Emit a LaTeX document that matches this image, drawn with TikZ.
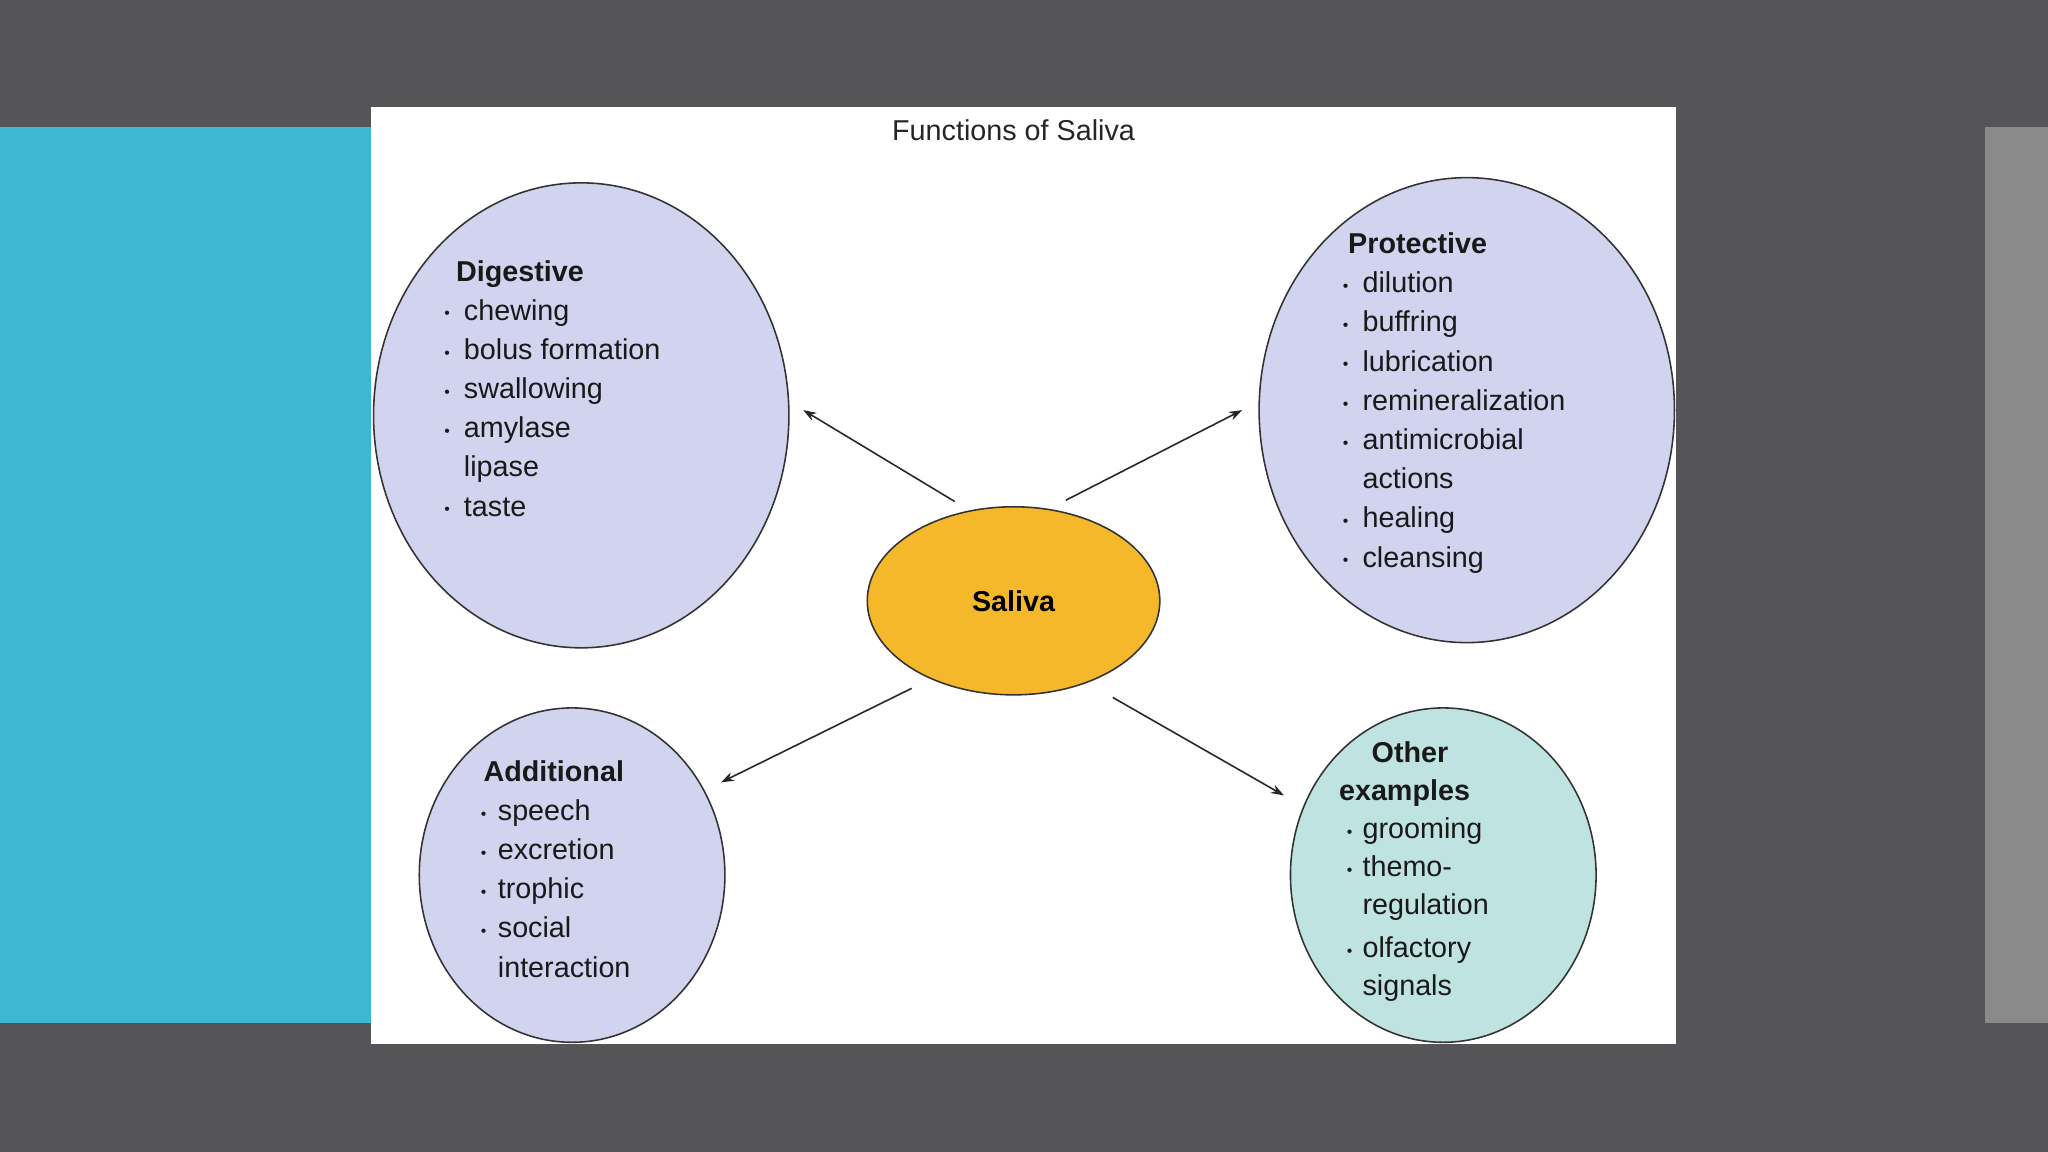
\documentclass[tikz,border=0pt]{standalone}
\usepackage{fontspec}
\setmainfont{Liberation Sans}
\usetikzlibrary{arrows.meta,shapes.geometric}
\definecolor{bgdark}{HTML}{555557}
\definecolor{cyanbar}{HTML}{3DB8D3}
\definecolor{greybar}{HTML}{8A8A8A}
\definecolor{lav}{HTML}{D2D3EE}
\definecolor{teal}{HTML}{BEE3E0}
\definecolor{gold}{HTML}{F5B82A}
\newcommand{\bl}{\makebox[15pt][l]{\raisebox{1pt}{\scalebox{0.55}{\textbullet}}}}
\newcommand{\ind}{\hspace*{15pt}}
\begin{document}
\begin{tikzpicture}[x=1pt,y=-1pt,
  bubble/.style={draw=black!80,line width=1.2pt,ellipse,inner sep=0pt},
  txt/.style={anchor=north west,inner sep=0pt,align=left,font=\fontsize{22}{30}\selectfont,text=black!90},
  arr/.style={-{Stealth[length=10pt,width=7pt]},line width=1.2pt,black!85}]
\useasboundingbox (0,0) rectangle (1568,882);
\fill[bgdark] (0,0) rectangle (1568,882);
\fill[cyanbar] (0,97) rectangle (284,783);
\fill[greybar] (1520,97) rectangle (1568,783);
\fill[white] (284,82) rectangle (1283,799);
\node[font=\fontsize{22}{26}\selectfont,text=black!85] (title) at (776,100) {Functions of Saliva};
\node[bubble,fill=lav,minimum width=318pt,minimum height=356pt] (dig) at (445,318) {};
\node[bubble,fill=lav,minimum width=318pt,minimum height=356pt] (pro) at (1123,314) {};
\node[bubble,fill=lav,minimum width=234pt,minimum height=256pt] (add) at (438,670) {};
\node[bubble,fill=teal,minimum width=234pt,minimum height=256pt] (oth) at (1105,670) {};
\node[bubble,fill=gold,minimum width=224pt,minimum height=144pt,font=\fontsize{22}{26}\selectfont\bfseries] (sal) at (776,460) {Saliva};
\node[txt] (digt) at (340,199) {\ind\hspace*{-6pt}\textbf{Digestive}\\ \bl chewing\\ \bl bolus formation\\ \bl swallowing\\ \bl amylase\\ \ind lipase\\ \bl taste};
\node[txt] (prot) at (1028,178) {\hspace*{4pt}\textbf{Protective}\\ \bl dilution\\ \bl buffring\\ \bl lubrication\\ \bl remineralization\\ \bl antimicrobial\\ \ind actions\\ \bl healing\\ \bl cleansing};
\node[txt] (addt) at (368,582) {\hspace*{2pt}\textbf{Additional}\\ \makebox[13pt][l]{\raisebox{1pt}{\scalebox{0.55}{\textbullet}}}speech\\ \makebox[13pt][l]{\raisebox{1pt}{\scalebox{0.55}{\textbullet}}}excretion\\ \makebox[13pt][l]{\raisebox{1pt}{\scalebox{0.55}{\textbullet}}}trophic\\ \makebox[13pt][l]{\raisebox{1pt}{\scalebox{0.55}{\textbullet}}}social\\ \hspace*{13pt}interaction};
\node[txt,font=\fontsize{22}{29}\selectfont] (otht) at (1025,568) {\hspace*{25pt}\textbf{Other}\\ \textbf{examples}\\ \hspace*{6pt}\makebox[12pt][l]{\raisebox{1pt}{\scalebox{0.55}{\textbullet}}}grooming\\ \hspace*{6pt}\makebox[12pt][l]{\raisebox{1pt}{\scalebox{0.55}{\textbullet}}}themo-\\ \hspace*{18pt}regulation\\[4pt] \hspace*{6pt}\makebox[12pt][l]{\raisebox{1pt}{\scalebox{0.55}{\textbullet}}}olfactory\\ \hspace*{18pt}signals};
\coordinate (a1s) at (731,384); \coordinate (a1e) at (615,314);
\coordinate (a2s) at (816,383); \coordinate (a2e) at (951,314);
\coordinate (a3s) at (698,527); \coordinate (a3e) at (552,599);
\coordinate (a4s) at (852,534); \coordinate (a4e) at (983,609);
\draw[arr] (a1s) -- (a1e);
\draw[arr] (a2s) -- (a2e);
\draw[arr] (a3s) -- (a3e);
\draw[arr] (a4s) -- (a4e);
\end{tikzpicture}
\end{document}
